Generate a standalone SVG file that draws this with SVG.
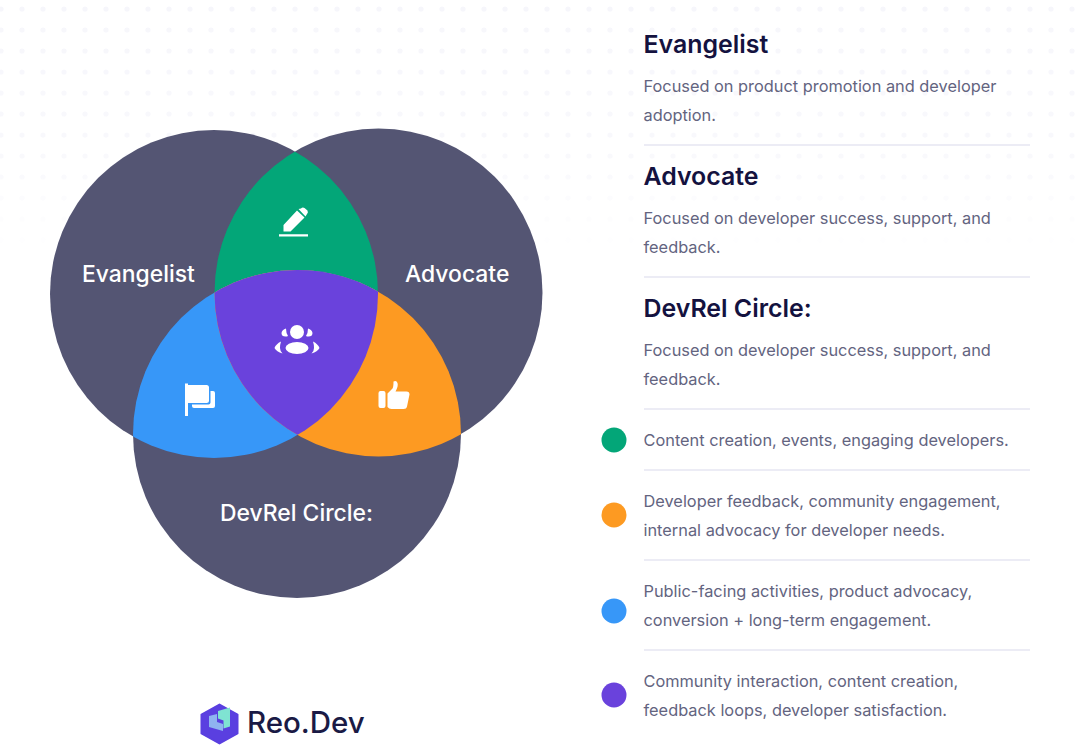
<svg xmlns="http://www.w3.org/2000/svg" width="1080" height="756" viewBox="0 0 1080 756">
<style>
.h{font:600 24.900px Inter,"Noto Sans",sans-serif;fill:#14123f}
.b{font:400 16.350px Inter,"Noto Sans",sans-serif;fill:#63647f}
.c{font:500 22.900px Inter,"Noto Sans",sans-serif;fill:#fff}
.r{stroke:#e6e6f2;stroke-width:1.3}
.w{fill:#fff}
</style>
<defs>
<pattern id="dots" width="21" height="21" patternUnits="userSpaceOnUse" x="-10" y="-2"><circle cx="11" cy="11" r="2.6" fill="#f6f6fb"/></pattern>
<linearGradient id="fade" x1="0" y1="0" x2="0" y2="1"><stop offset="0" stop-color="#fff"/><stop offset="0.6" stop-color="#fff" stop-opacity=".7"/><stop offset="1" stop-color="#fff" stop-opacity="0"/></linearGradient>
<mask id="dm" maskUnits="userSpaceOnUse" x="0" y="0" width="1080" height="250"><rect width="1080" height="250" fill="url(#fade)"/></mask>
<clipPath id="cl"><circle cx="214" cy="294" r="164"/></clipPath>
<clipPath id="cr"><circle cx="378.500" cy="292.500" r="164"/></clipPath>
<clipPath id="cb"><circle cx="297" cy="434" r="164"/></clipPath>
<clipPath id="clb" clip-path="url(#cb)"><circle cx="214" cy="294" r="164"/></clipPath>
</defs>
<rect width="1080" height="756" fill="#fff"/>
<rect width="1080" height="250" fill="url(#dots)" mask="url(#dm)"/>
<g id="circle-evangelist"><circle cx="214" cy="294" r="164" fill="#545573"/></g>
<g id="circle-advocate"><circle cx="378.500" cy="292.500" r="164" fill="#545573"/></g>
<g id="circle-devrel"><circle cx="297" cy="434" r="164" fill="#545573"/></g>
<g id="overlap-green"><circle cx="378.500" cy="292.500" r="164" fill="#03a678" clip-path="url(#cl)"/>
<path class="w" d="M283.500 231.500v-6.500l13.500-14.500 7.500 7-14 14zM298.500 209l2.500-.5q1.500-1.500 3.500-.5l3 2.500q1 2 -.5 3.500l-1.500 2.500zM279 234.300h29v2.200h-29z"/></g>
<g id="overlap-blue"><circle cx="214" cy="294" r="164" fill="#3797f8" clip-path="url(#cb)"/>
<path class="w" d="M185 383.500h3v1.500h18.500q2.500 0 2.500 2.500v13q0 2.500-2.500 2.500h-18.500v13h-3zM210.500 391h2.500q2 0 2 2v13q0 2-2 2h-19q-2 0-2-2v-1.500h16.500q2 0 2-2z"/></g>
<g id="overlap-orange"><circle cx="378.500" cy="292.500" r="164" fill="#fd9a22" clip-path="url(#cb)"/>
<path class="w" d="M378.500 393q0-2 2-2h3q2 0 2 2v13q0 2-2 2h-3q-2 0-2-2zM387.500 393.500l5-5q1-1.500 1-7 3-1.500 4 1.500 1 3-2 8.500h11q3 0 3 3l-2.500 12q-.5 2.500-3.500 2.500h-12q-2.500 0-4-2z"/></g>
<g id="overlap-purple"><circle cx="378.500" cy="292.500" r="164" fill="#6a42dc" clip-path="url(#clb)"/>
<circle class="w" cx="297" cy="332" r="7"/><ellipse class="w" cx="297" cy="348" rx="11.500" ry="6"/>
<path class="w" d="M286 328.500q-4 1-4.500 4.500 0 3.500 4 3.500 1.500 0 2.500-.5-2-3-2-7.500zM308 328.500q4 1 4.500 4.500 0 3.500-4 3.500-1.500 0-2.500-.5 2-3 2-7.500zM281 341.500q-5 2.500-6.500 6.500 2 3.500 8 5.500-2.500-2.500-2.500-5.500 0-3.500 1-6.500zM313 341.500q5 2.500 6.500 6.500-2 3.500-8 5.500 2.500-2.500 2.500-5.500 0-3.500-1-6.500z"/></g>
<g id="label-evangelist"><text class="c" x="82" y="282">Evangelist</text></g>
<g id="label-advocate"><text class="c" x="405" y="282">Advocate</text></g>
<g id="label-devrel"><text class="c" x="220" y="521">DevRel Circle:</text></g>
<g id="logo">
<path d="M219.500 704.500l18 10v19l-18 10-18-10v-19z" fill="#5a3fe0" stroke="#5a3fe0" stroke-width="2" stroke-linejoin="round"/>
<path d="M218 711l12-3.500v19l-6.500 2v-8l-5.500-2z" fill="#7fe3d2"/>
<path d="M209 716l8-2v8l6 2v7l-14-4z" fill="#8fb4f0"/>
<text x="247" y="733" style="font:500 29.500px Inter,'Noto Sans',sans-serif;fill:#1a1a45">Reo.Dev</text>
</g>
<g id="section-evangelist"><text class="h" x="643.500" y="53">Evangelist</text>
<text class="b" x="643.500" y="92">Focused on product promotion and developer</text>
<text class="b" x="643.500" y="120.500">adoption.</text>
<line class="r" x1="644" y1="145" x2="1030" y2="145"/></g>
<g id="section-advocate"><text class="h" x="643.500" y="185">Advocate</text>
<text class="b" x="643.500" y="224">Focused on developer success, support, and</text>
<text class="b" x="643.500" y="252.500">feedback.</text>
<line class="r" x1="644" y1="277" x2="1030" y2="277"/></g>
<g id="section-devrel"><text class="h" x="643.500" y="317">DevRel Circle:</text>
<text class="b" x="643.500" y="356">Focused on developer success, support, and</text>
<text class="b" x="643.500" y="384.500">feedback.</text>
<line class="r" x1="644" y1="409" x2="1030" y2="409"/></g>
<g id="legend-green"><circle cx="614" cy="440" r="12.500" fill="#03a678"/>
<text class="b" x="643.500" y="446">Content creation, events, engaging developers.</text>
<line class="r" x1="644" y1="470" x2="1030" y2="470"/></g>
<g id="legend-orange"><circle cx="614" cy="515" r="12.500" fill="#fd9a22"/>
<text class="b" x="643.500" y="507">Developer feedback, community engagement,</text>
<text class="b" x="643.500" y="536">internal advocacy for developer needs.</text>
<line class="r" x1="644" y1="560" x2="1030" y2="560"/></g>
<g id="legend-blue"><circle cx="614" cy="611" r="12.500" fill="#3797f8"/>
<text class="b" x="643.500" y="597">Public-facing activities, product advocacy,</text>
<text class="b" x="643.500" y="626">conversion + long-term engagement.</text>
<line class="r" x1="644" y1="650" x2="1030" y2="650"/></g>
<g id="legend-purple"><circle cx="614" cy="695" r="12.500" fill="#6a42dc"/>
<text class="b" x="643.500" y="687">Community interaction, content creation,</text>
<text class="b" x="643.500" y="716">feedback loops, developer satisfaction.</text></g>
</svg>
